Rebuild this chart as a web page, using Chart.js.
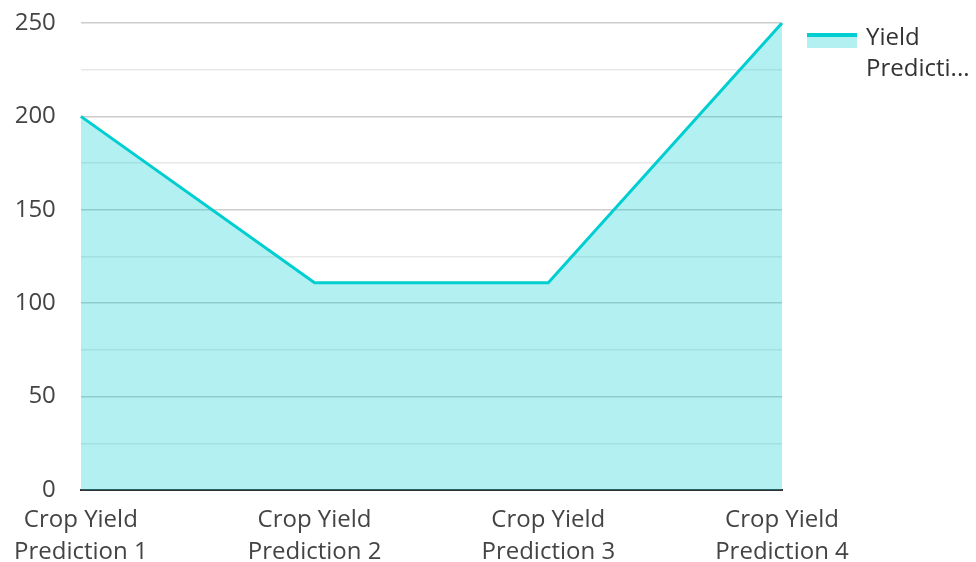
<!DOCTYPE html>
<html>
<head>
<meta charset="utf-8">
<script src="https://cdn.jsdelivr.net/npm/chart.js@4/dist/chart.umd.min.js"></script>
<style>
  html, body { margin: 0; padding: 0; background: #fff; }
  #wrap { position: relative; width: 976px; height: 562px; }
  canvas { display: block; }
  #legend { position: absolute; left: 807px; top: 20px; font-family: "Open Sans", sans-serif; font-size: 24px; color: #333; line-height: 31px; }
  #legend .sw { position: absolute; left: 0; top: 13px; width: 50px; height: 15px; background: rgba(0,206,209,0.3); border-top: 4px solid #00CED1; box-sizing: border-box; }
  #legend .tx { position: absolute; left: 59px; top: 0; white-space: nowrap; }
</style>
</head>
<body>
<div id="wrap">
  <canvas id="c" width="976" height="562"></canvas>
  <div id="legend"><div class="sw"></div><div class="tx">Yield<br>Predicti...</div></div>
</div>
<script>
const categories = [["Crop Yield", "Prediction 1"], ["Crop Yield", "Prediction 2"], ["Crop Yield", "Prediction 3"], ["Crop Yield", "Prediction 4"]];
const seriesName = "Yield Prediction";
const yieldValues = [200, 111, 111, 250];
const yTicks = [0, 50, 100, 150, 200, 250];

const FONT = "'Open Sans', sans-serif";

new Chart(document.getElementById('c'), {
  type: 'line',
  data: {
    labels: categories,
    datasets: [{
      label: seriesName,
      data: yieldValues,
      borderColor: '#00CED1',
      backgroundColor: 'rgba(0,206,209,0.3)',
      borderWidth: 3,
      fill: 'origin',
      pointRadius: 0,
      tension: 0
    }]
  },
  options: {
    responsive: false,
    animation: false,
    devicePixelRatio: 1,
    layout: { padding: { top: 23, right: 194, bottom: 0, left: 0 } },
    plugins: { legend: { display: false }, tooltip: { enabled: false } },
    scales: {
      x: {
        offset: false,
        grid: { display: false, drawTicks: false },
        border: { display: true, color: '#333', width: 2 },
        ticks: { color: '#444', font: { family: FONT, size: 24, lineHeight: 1.33 }, padding: 14, maxRotation: 0, autoSkip: false },
        afterFit: (s) => { s.height = 72; }
      },
      y: {
        min: 0, max: 250,
        grid: {
          drawTicks: false,
          color: (ctx) => (ctx.tick && ctx.tick.value % 50 === 0) ? '#cccccc' : '#e8e8e8',
          lineWidth: 1.5
        },
        border: { display: false },
        ticks: {
          stepSize: 25,
          color: '#444',
          padding: 25,
          font: { family: FONT, size: 24 },
          callback: (v) => yTicks.includes(v) ? String(v) : ''
        },
        afterFit: (s) => { s.width = 80; s.paddingTop = 0; s.paddingBottom = 0; }
      }
    }
  }
});
</script>
</body>
</html>
